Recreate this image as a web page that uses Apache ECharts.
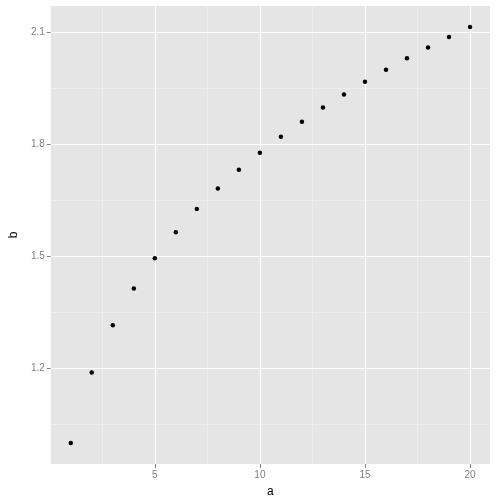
<!DOCTYPE html>
<html><head><meta charset="utf-8">
<script src="https://cdn.jsdelivr.net/npm/echarts@6/dist/echarts.min.js"></script>
<style>html,body{margin:0;background:#fff}#c{width:504px;height:504px}</style>
</head><body><div id="c"></div>
<script>
const aVals = [1,2,3,4,5,6,7,8,9,10,11,12,13,14,15,16,17,18,19,20];
const bVals = [1.000,1.189,1.316,1.414,1.495,1.565,1.627,1.682,1.732,1.778,1.821,1.861,1.899,1.934,1.968,2.000,2.031,2.060,2.088,2.115];
const xTicks = [5,10,15,20];
const yTicks = [1.2,1.5,1.8,2.1];
const xMinor = [2.5,7.5,12.5,17.5];
const yMinor = [1.05,1.35,1.65,1.95];

const chart = echarts.init(document.getElementById('c'));
const lbl = {color:'#7f7f7f', fontSize:10, fontFamily:'Liberation Sans'};
const gridLines = [];
xMinor.forEach(v => gridLines.push({xAxis:v, lineStyle:{color:'#f2f2f2', width:0.6, type:'solid'}}));
yMinor.forEach(v => gridLines.push({yAxis:v, lineStyle:{color:'#f2f2f2', width:0.6, type:'solid'}}));
xTicks.forEach(v => gridLines.push({xAxis:v, lineStyle:{color:'#ffffff', width:1.2, type:'solid'}}));
yTicks.forEach(v => gridLines.push({yAxis:v, lineStyle:{color:'#ffffff', width:1.2, type:'solid'}}));

chart.setOption({
  animation:false,
  grid:{left:46, right:14, top:6, bottom:40, show:true, backgroundColor:'#e5e5e5', borderWidth:0, containLabel:false},
  xAxis:{type:'value', min:0.05, max:20.95, name:'a', nameLocation:'middle', nameGap:22,
    nameTextStyle:{color:'#000', fontSize:12, fontFamily:'Liberation Sans'},
    axisLine:{show:false}, splitLine:{show:false},
    axisTick:{show:true, length:4, lineStyle:{color:'#7f7f7f'}, customValues:xTicks},
    axisLabel:Object.assign({customValues:xTicks, margin:6}, lbl)},
  yAxis:{type:'value', min:0.944, max:2.171, name:'b', nameLocation:'middle', nameGap:30,
    nameTextStyle:{color:'#000', fontSize:12, fontFamily:'Liberation Sans'},
    axisLine:{show:false}, splitLine:{show:false},
    axisTick:{show:true, length:4, lineStyle:{color:'#7f7f7f'}, customValues:yTicks},
    axisLabel:Object.assign({customValues:yTicks, margin:6, formatter:v=>v.toFixed(1)}, lbl)},
  series:[{
    type:'scatter', symbolSize:4.5, itemStyle:{color:'#000', opacity:1},
    data:aVals.map((a,i)=>[a,bVals[i]]),
    z:5,
    markLine:{silent:true, symbol:'none', label:{show:false}, animation:false, data:gridLines}
  }]
});
</script></body></html>
